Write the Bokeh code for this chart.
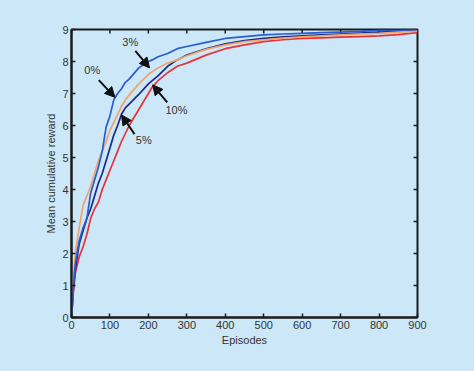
import math
from bokeh.plotting import figure
from bokeh.models import LinearAxis, Range1d, FixedTicker, Arrow, NormalHead, Label
from bokeh.embed import file_html
from bokeh.resources import INLINE

episodes = [0, 5, 10, 20, 30, 40, 50, 60, 70, 80, 90, 100, 110, 120, 130, 140, 150, 175, 200, 210, 225, 250, 275, 300, 350, 400, 450, 500, 550, 600, 650, 700, 750, 800, 850, 900]
r0 = [0, 1.0, 1.7, 2.4, 2.8, 3.1, 3.9, 4.3, 4.7, 5.2, 5.95, 6.3, 6.8, 7.0, 7.15, 7.35, 7.45, 7.8, 8.0, 8.05, 8.15, 8.25, 8.4, 8.47, 8.6, 8.72, 8.78, 8.83, 8.86, 8.88, 8.9, 8.92, 8.94, 8.97, 8.98, 9.0]
r3 = [0, 1.2, 2.0, 2.8, 3.5, 3.8, 4.1, 4.5, 4.9, 5.2, 5.5, 5.85, 6.1, 6.35, 6.6, 6.8, 6.95, 7.3, 7.6, 7.68, 7.8, 7.95, 8.05, 8.18, 8.38, 8.52, 8.62, 8.68, 8.73, 8.77, 8.8, 8.83, 8.86, 8.88, 8.92, 8.95]
r5 = [0, 0.9, 1.5, 2.3, 2.7, 3.1, 3.4, 3.8, 4.2, 4.5, 4.9, 5.3, 5.7, 6.0, 6.35, 6.55, 6.67, 6.97, 7.3, 7.4, 7.55, 7.85, 8.05, 8.2, 8.4, 8.55, 8.65, 8.72, 8.77, 8.8, 8.83, 8.86, 8.89, 8.92, 8.94, 8.96]
r10 = [0, 0.8, 1.4, 1.9, 2.2, 2.6, 3.1, 3.4, 3.6, 4.0, 4.3, 4.6, 4.9, 5.2, 5.5, 5.75, 6.0, 6.5, 7.0, 7.2, 7.4, 7.65, 7.85, 7.95, 8.2, 8.4, 8.52, 8.62, 8.68, 8.72, 8.74, 8.76, 8.78, 8.8, 8.84, 8.9]

series_names = ["0%", "3%", "5%", "10%"]
series_colors = ["#2a5cd2", "#f0a46a", "#1c2a86", "#e8323a"]

# annotation arrows: (label, label x, label y, tail x, tail y, tip x, tip y)
notes = [
    ("0%", 54, 7.73, 71, 7.42, 113, 6.88),
    ("3%", 153, 8.6, 166, 8.33, 203, 7.8),
    ("5%", 188, 5.54, 164, 5.73, 130, 6.33),
    ("10%", 273, 6.48, 249, 6.72, 211, 7.27),
]

x_ticks = list(range(0, 1000, 100))
y_ticks = list(range(0, 10))
x_max = 900
y_max = 9

BG = "#cce8f8"
FONT = "Liberation Sans"
DARK = "#1a1a1a"

p = figure(width=474, height=371, output_backend="svg", toolbar_location=None,
           x_range=Range1d(0, x_max), y_range=Range1d(0, y_max),
           x_axis_location=None, y_axis_location=None,
           min_border_left=71, min_border_right=57, min_border_top=29, min_border_bottom=54)
p.background_fill_color = BG
p.border_fill_color = BG
p.outline_line_color = DARK
p.outline_line_width = 2
p.grid.visible = False

def style_axis(ax, ticks, label):
    ax.ticker = FixedTicker(ticks=ticks)
    ax.axis_line_color = DARK
    ax.axis_line_width = 2
    ax.major_tick_in = 4
    ax.major_tick_out = 0
    ax.major_tick_line_color = DARK
    ax.major_tick_line_width = 1.5
    ax.minor_tick_line_color = None
    ax.major_label_text_font = FONT
    ax.major_label_text_font_size = "11px"
    ax.major_label_text_color = "#333333"
    ax.major_label_standoff = 3
    ax.axis_label = label
    ax.axis_label_text_font = FONT
    ax.axis_label_text_font_size = "11px"
    ax.axis_label_text_font_style = "normal"
    ax.axis_label_text_color = "#333333"
    ax.axis_label_standoff = 2

xb = LinearAxis(); style_axis(xb, x_ticks, "Episodes"); p.add_layout(xb, "below")
yl = LinearAxis(); style_axis(yl, y_ticks, "Mean cumulative reward"); p.add_layout(yl, "left")

# inward ticks on top and right edges (MATLAB box style)
p.ray(x=x_ticks, y=[y_max] * len(x_ticks), length=4, length_units="screen",
      angle=-math.pi / 2, line_color=DARK, line_width=1.5)
p.ray(x=[x_max] * len(y_ticks), y=y_ticks, length=4, length_units="screen",
      angle=math.pi, line_color=DARK, line_width=1.5)

for vals, col in zip([r10, r5, r3, r0], [series_colors[3], series_colors[2], series_colors[1], series_colors[0]]):
    p.line(episodes, vals, line_color=col, line_width=1.7)

for name, lx, ly, tx, ty, hx, hy in notes:
    p.add_layout(Arrow(end=NormalHead(size=10, fill_color="#111111", line_color="#111111"),
                       x_start=tx, y_start=ty, x_end=hx, y_end=hy,
                       line_color="#111111", line_width=2))
    p.add_layout(Label(x=lx, y=ly, text=name, text_align="center", text_baseline="middle",
                       text_font=FONT, text_font_size="11px", text_color="#333333"))

html = file_html(p, INLINE)
html = html.replace("</head>", "<style>html, body { background: %s; }</style></head>" % BG, 1)
open("out.html", "w").write(html)
